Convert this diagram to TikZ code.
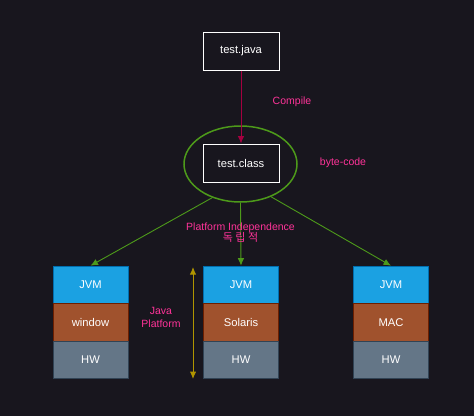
\documentclass[tikz,border=0pt]{standalone}
\usepackage{fontspec}
\setmainfont{Liberation Sans}
\newfontfamily\kofont{Noto Sans CJK KR}
\usetikzlibrary{arrows.meta,shapes.geometric}
\definecolor{bg}{HTML}{18161E}
\definecolor{jvmfill}{HTML}{1BA1E2}
\definecolor{jvmline}{HTML}{006EAF}
\definecolor{osfill}{HTML}{A0522D}
\definecolor{osline}{HTML}{6D1F00}
\definecolor{hwfill}{HTML}{647687}
\definecolor{hwline}{HTML}{314354}
\definecolor{grn}{HTML}{4D9A1A}
\definecolor{cmp}{HTML}{A50040}
\definecolor{pinktxt}{HTML}{FF3399}
\definecolor{yel}{HTML}{B09500}
\tikzset{
  fbox/.style={draw=white, line width=1pt, minimum width=76pt, minimum height=38pt, inner sep=0pt, text=white, font=\fontsize{11.2}{13}\selectfont},
  layer/.style={minimum width=75pt, minimum height=37.6pt, inner sep=0pt, text=white, line width=1pt, font=\fontsize{11.2}{13}\selectfont},
  jvm/.style={layer, fill=jvmfill, draw=jvmline},
  os/.style={layer, fill=osfill, draw=osline},
  hw/.style={layer, fill=hwfill, draw=hwline},
  lbl/.style={text=pinktxt, font=\fontsize{10.5}{12.5}\selectfont, align=center, inner sep=0pt},
  garrow/.style={draw=grn, line width=0.9pt, -{Latex[length=7.5pt,width=6.5pt]}},
}
\begin{document}
\begin{tikzpicture}[x=1pt,y=-1pt]
\fill[bg] (0,0) rectangle (474,416);
\useasboundingbox (0,0) rectangle (474,416);
% top boxes
\node[fbox] (java) at (241,51) {test.java};
\node[fbox] (class) at (241,163) {test.class};
\node[draw=grn, line width=1.5pt, ellipse, minimum width=113pt, minimum height=76pt, inner sep=0pt] (ell) at (240.5,164) {};
\draw[draw=cmp, line width=0.9pt, -{Latex[length=7.5pt,width=6.5pt]}] (java) -- (class);
\node[lbl] (compile) at (292,102) {Compile};
\node[lbl] (bytecode) at (343,163) {byte-code};
% stacks
\node[jvm] (jvm1) at (90.5,285) {JVM};
\node[os] (os1) at (90.5,322.5) {window};
\node[hw] (hw1) at (90.5,360) {HW};
\node[jvm] (jvm2) at (241,285) {JVM};
\node[os] (os2) at (241,322.5) {Solaris};
\node[hw] (hw2) at (241,360) {HW};
\node[jvm] (jvm3) at (391,285) {JVM};
\node[os] (os3) at (391,322.5) {MAC};
\node[hw] (hw3) at (391,360) {HW};
% arrows from ellipse
\draw[garrow] (ell.-130) -- (jvm1.north);
\draw[garrow] (ell.south) -- (jvm2.north);
\draw[garrow] (ell.-47) -- (jvm3.north);
\node[lbl] (indep) at (240.5,232.5) {Platform Independence\\[-1pt]{\kofont\fontsize{11}{13}\selectfont 독 립 적}};
% java platform
\coordinate (ytop) at (193,267);
\coordinate (ybot) at (193,379);
\draw[draw=yel, line width=1pt, {Latex[length=7.5pt,width=6.5pt]}-{Latex[length=7.5pt,width=6.5pt]}] (ytop) -- (ybot);
\node[lbl] (jp) at (161,317.5) {Java\\Platform};
\end{tikzpicture}
\end{document}
